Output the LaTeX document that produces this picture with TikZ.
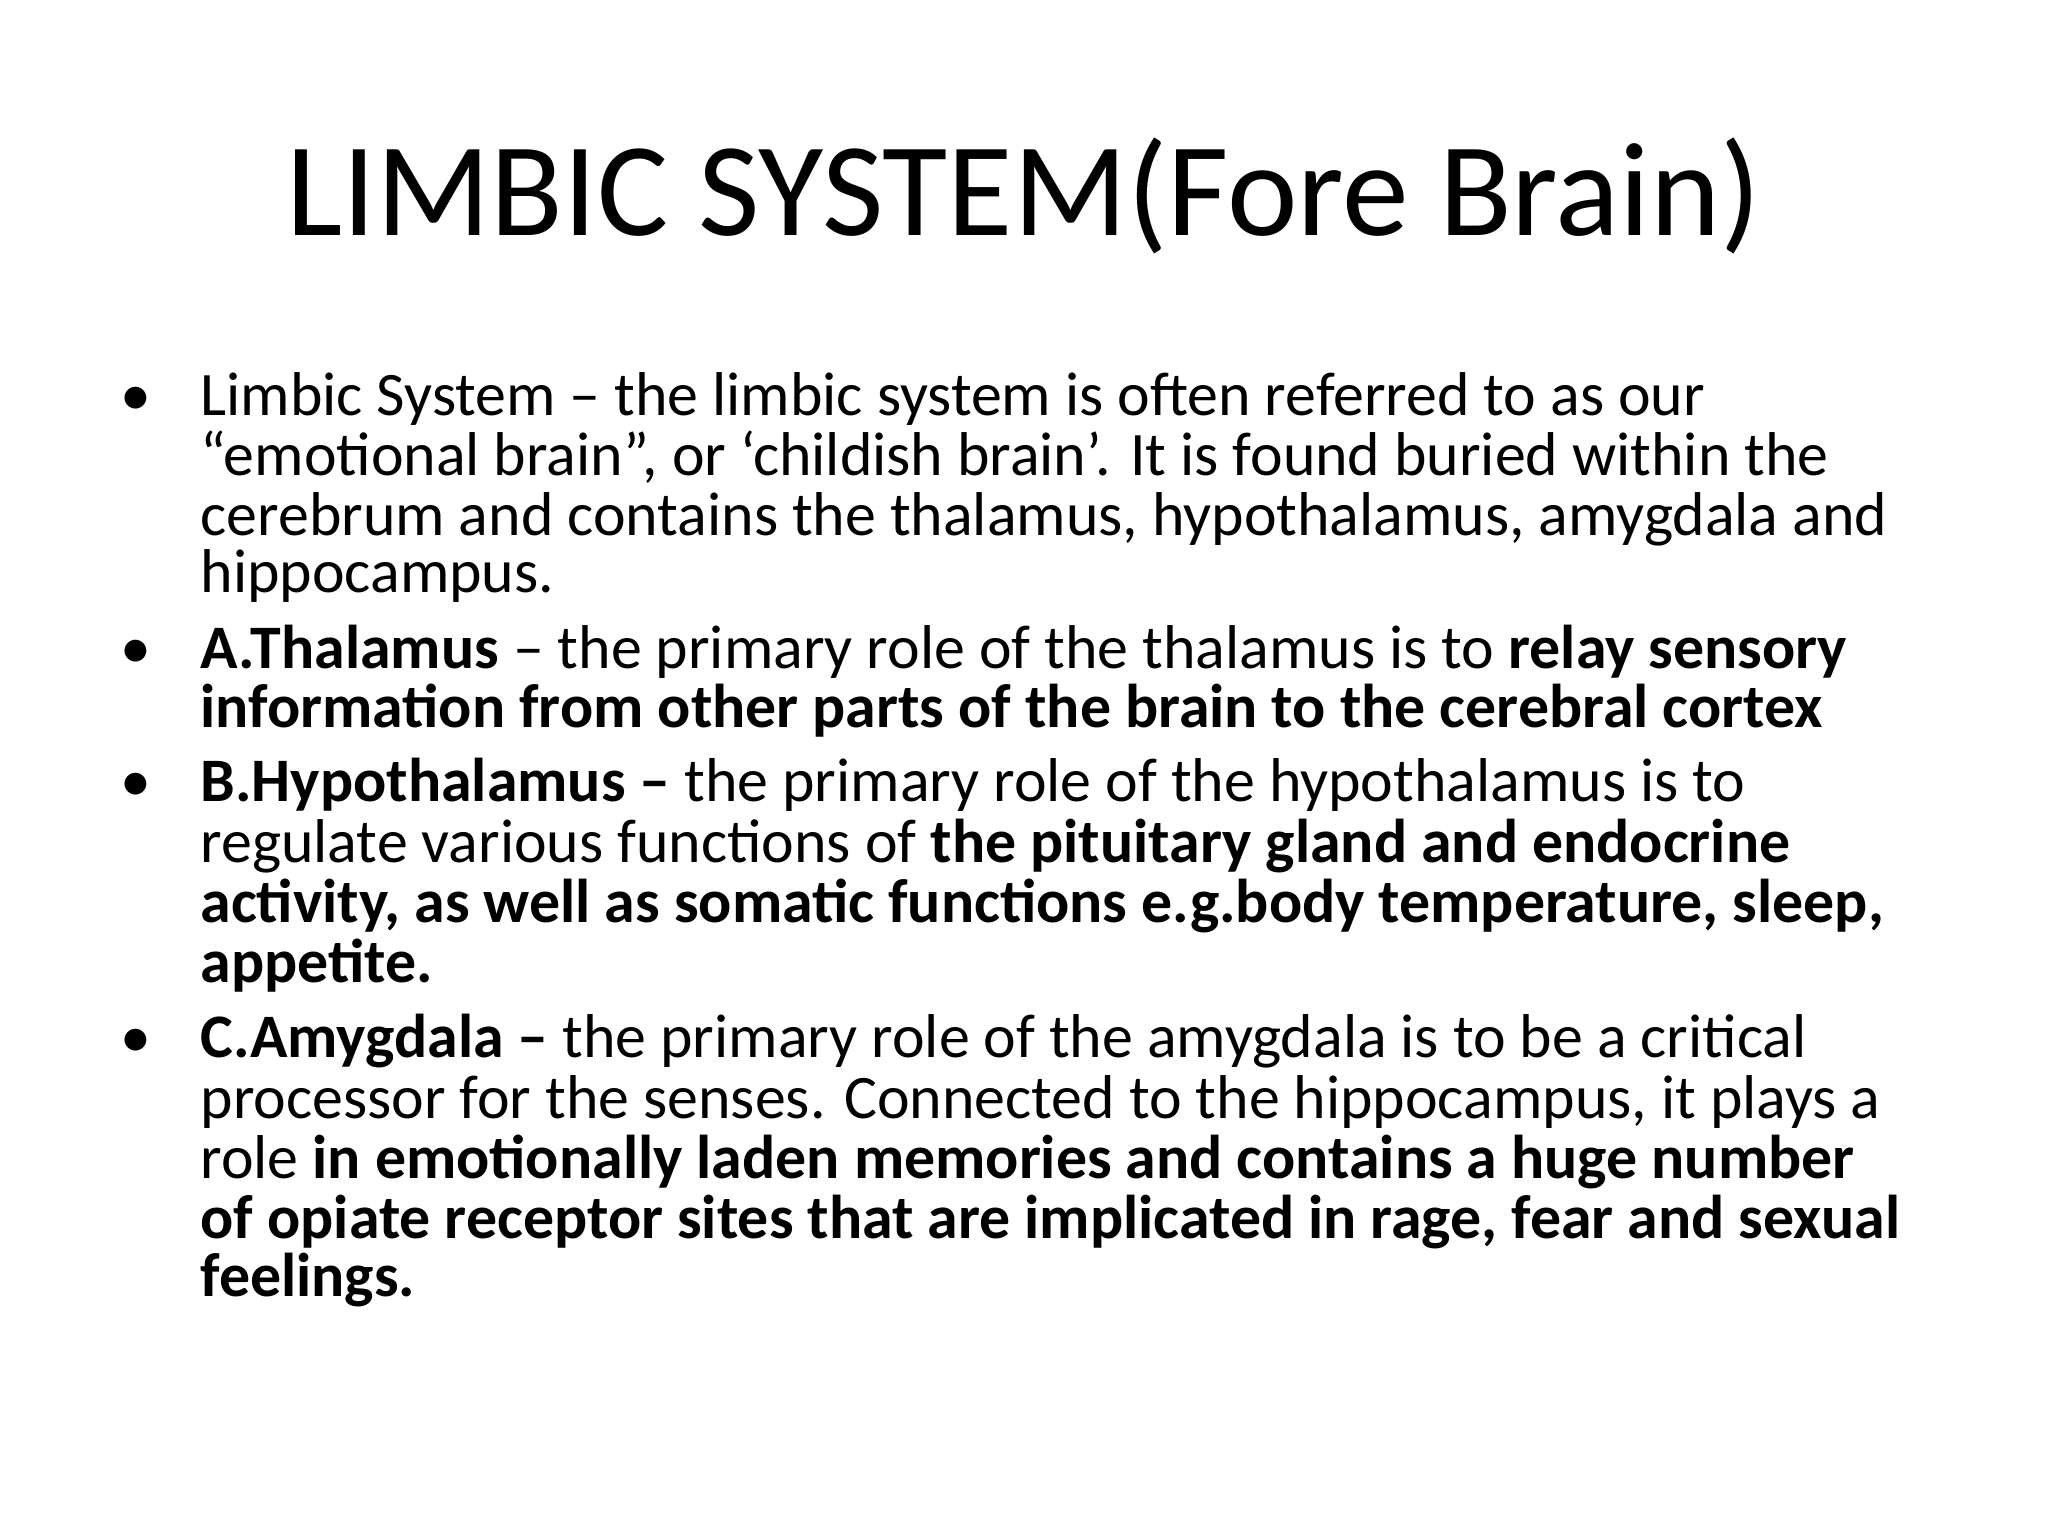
\documentclass[tikz,border=0pt]{standalone}
\usepackage{fontspec}
\setmainfont{Carlito}
\begin{document}
\begin{tikzpicture}[x=0.013061cm,y=-0.013061cm,
  ln/.style={anchor=base west,inner sep=0pt,font=\fontsize{17.6}{20}\selectfont},
  bl/.style={anchor=base,inner sep=0pt,font=\fontsize{17.6}{20}\selectfont}]
\useasboundingbox (0,0) rectangle (1568,1176);
\node[anchor=base,inner sep=0pt,font=\fontsize{38}{44}\selectfont] (title) at (784,180) {LIMBIC SYSTEM(Fore Brain)};
\foreach \y/\n in {318/b1,512/b2,614/b3,810/b4}{\node[bl] (\n) at (104,\y) {•};}
\node[ln] (l1) at (153,318) {Limbic System – the limbic system is often referred to as our};
\node[ln] (l2) at (153,364) {“emotional brain”, or ‘childish brain’. It is found buried within the};
\node[ln] (l3) at (153,410) {cerebrum and contains the thalamus, hypothalamus, amygdala and};
\node[ln] (l4) at (153,454) {hippocampus.};
\node[ln] (l5) at (153,512) {\textbf{A.Thalamus} – the primary role of the thalamus is to \textbf{relay sensory}};
\node[ln] (l6) at (153,557) {\textbf{information from other parts of the brain to the cerebral cortex}};
\node[ln] (l7) at (153,614) {\textbf{B.Hypothalamus –} the primary role of the hypothalamus is to};
\node[ln] (l8) at (153,660) {regulate various functions of \textbf{the pituitary gland and endocrine}};
\node[ln] (l9) at (153,706) {\textbf{activity, as well as somatic functions e.g.body temperature, sleep,}};
\node[ln] (l10) at (153,752) {\textbf{appetite.}};
\node[ln] (l11) at (153,810) {\textbf{C.Amygdala –} the primary role of the amygdala is to be a critical};
\node[ln] (l12) at (153,856) {processor for the senses. Connected to the hippocampus, it plays a};
\node[ln] (l13) at (153,902) {role \textbf{in emotionally laden memories and contains a huge number}};
\node[ln] (l14) at (153,948) {\textbf{of opiate receptor sites that are implicated in rage, fear and sexual}};
\node[ln] (l15) at (153,993) {\textbf{feelings.}};
\end{tikzpicture}
\end{document}
